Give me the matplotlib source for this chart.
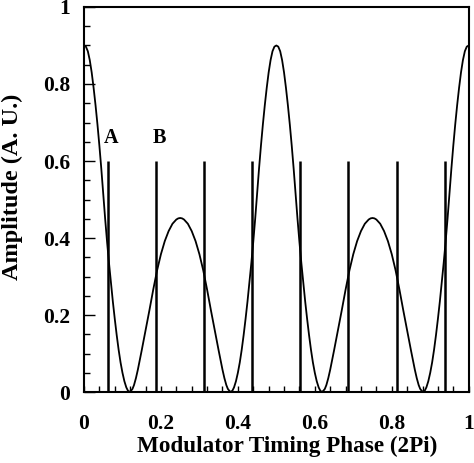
import matplotlib.pyplot as plt
from matplotlib.ticker import MultipleLocator

# curve
phase = [0.000, 0.005, 0.010, 0.015, 0.020, 0.025, 0.030, 0.035, 0.040, 0.045,
         0.050, 0.055, 0.060, 0.065, 0.070, 0.075, 0.080, 0.085, 0.090, 0.095,
         0.100, 0.105, 0.110, 0.114, 0.118, 0.122, 0.126, 0.130, 0.135, 0.140,
         0.150, 0.160, 0.170, 0.180, 0.190, 0.200, 0.210, 0.220, 0.230, 0.240,
         0.245, 0.250, 0.255, 0.260, 0.270, 0.280, 0.290, 0.300, 0.310, 0.320,
         0.330, 0.340, 0.350, 0.360, 0.365, 0.370, 0.374, 0.378, 0.382, 0.386,
         0.390, 0.395, 0.400, 0.405, 0.410, 0.415, 0.420, 0.425, 0.430, 0.435,
         0.440, 0.445, 0.450, 0.455, 0.460, 0.465, 0.470, 0.475, 0.480, 0.485,
         0.490, 0.495, 0.500,
         0.505, 0.510, 0.515, 0.520, 0.525, 0.530, 0.535, 0.540, 0.545,
         0.550, 0.555, 0.560, 0.565, 0.570, 0.575, 0.580, 0.585, 0.590, 0.595,
         0.600, 0.605, 0.610, 0.614, 0.618, 0.622, 0.626, 0.630, 0.635, 0.640,
         0.650, 0.660, 0.670, 0.680, 0.690, 0.700, 0.710, 0.720, 0.730, 0.740,
         0.745, 0.750, 0.755, 0.760, 0.770, 0.780, 0.790, 0.800, 0.810, 0.820,
         0.830, 0.840, 0.850, 0.860, 0.865, 0.870, 0.874, 0.878, 0.882, 0.886,
         0.890, 0.895, 0.900, 0.905, 0.910, 0.915, 0.920, 0.925, 0.930, 0.935,
         0.940, 0.945, 0.950, 0.955, 0.960, 0.965, 0.970, 0.975, 0.980, 0.985,
         0.990, 0.995, 1.000]
amplitude = [0.900, 0.897, 0.885, 0.862, 0.830, 0.790, 0.745, 0.695, 0.640, 0.580,
             0.515, 0.450, 0.390, 0.335, 0.285, 0.235, 0.190, 0.148, 0.110, 0.077,
             0.050, 0.028, 0.012, 0.004, 0.000, 0.003, 0.008, 0.018, 0.036, 0.058,
             0.108, 0.160, 0.212, 0.266, 0.316, 0.358, 0.392, 0.418, 0.437, 0.448,
             0.451, 0.452, 0.451, 0.448, 0.437, 0.418, 0.392, 0.358, 0.316, 0.266,
             0.212, 0.160, 0.108, 0.058, 0.036, 0.018, 0.008, 0.003, 0.000, 0.004,
             0.012, 0.028, 0.050, 0.077, 0.110, 0.148, 0.190, 0.235, 0.285, 0.335,
             0.390, 0.450, 0.515, 0.580, 0.640, 0.695, 0.745, 0.790, 0.830, 0.862,
             0.885, 0.897, 0.900,
             0.897, 0.885, 0.862, 0.830, 0.790, 0.745, 0.695, 0.640, 0.580,
             0.515, 0.450, 0.390, 0.335, 0.285, 0.235, 0.190, 0.148, 0.110, 0.077,
             0.050, 0.028, 0.012, 0.004, 0.000, 0.003, 0.008, 0.018, 0.036, 0.058,
             0.108, 0.160, 0.212, 0.266, 0.316, 0.358, 0.392, 0.418, 0.437, 0.448,
             0.451, 0.452, 0.451, 0.448, 0.437, 0.418, 0.392, 0.358, 0.316, 0.266,
             0.212, 0.160, 0.108, 0.058, 0.036, 0.018, 0.008, 0.003, 0.000, 0.004,
             0.012, 0.028, 0.050, 0.077, 0.110, 0.148, 0.190, 0.235, 0.285, 0.335,
             0.390, 0.450, 0.515, 0.580, 0.640, 0.695, 0.745, 0.790, 0.830, 0.862,
             0.885, 0.897, 0.900]

# timing markers
marker_phase = [0.0625, 0.1875, 0.3125, 0.4375, 0.5625, 0.6875, 0.8125, 0.9375]
marker_height = 0.6
marker_labels = ['A', 'B']

plt.rcParams['font.family'] = ['Liberation Serif', 'DejaVu Serif']
plt.rcParams['font.weight'] = 'bold'

fig = plt.figure(figsize=(4.74, 4.63), dpi=100)
ax = fig.add_axes([0.1772, 0.1533, 0.8116, 0.8316])

ax.plot(phase, amplitude, color='black', linewidth=1.3)
ax.vlines(marker_phase, 0, marker_height, color='black', linewidth=1.8)
for xm, lab in zip(marker_phase, marker_labels):
    ax.text(xm + 0.009, marker_height + 0.035, lab, ha='center', va='bottom',
            fontsize=14.5, fontweight='bold')

ax.set_xlim(0, 1)
ax.set_ylim(0, 1)
ax.xaxis.set_major_locator(MultipleLocator(0.2))
ax.xaxis.set_minor_locator(MultipleLocator(0.04))
ax.yaxis.set_major_locator(MultipleLocator(0.2))
ax.yaxis.set_minor_locator(MultipleLocator(0.05))
fmt = plt.FuncFormatter(lambda v, p: '%g' % round(v, 2))
ax.xaxis.set_major_formatter(fmt)
ax.yaxis.set_major_formatter(fmt)
ax.tick_params(which='both', direction='in', top=False, right=False,
               labelsize=15.5, width=1.0)
ax.tick_params(axis='x', which='major', length=4, pad=16)
ax.tick_params(axis='y', which='major', length=8, pad=10)
ax.tick_params(which='minor', length=4)
for s in ax.spines.values():
    s.set_linewidth(1.5)

ax.set_xlabel('Modulator Timing Phase (2Pi)', fontsize=16.7, fontweight='bold')
ax.xaxis.set_label_coords(0.529, -0.113)
ax.set_ylabel('Amplitude (A. U.)', fontsize=17.5, fontweight='bold')
ax.yaxis.set_label_coords(-0.158, 0.532)

fig.savefig('out.png', dpi=100)
